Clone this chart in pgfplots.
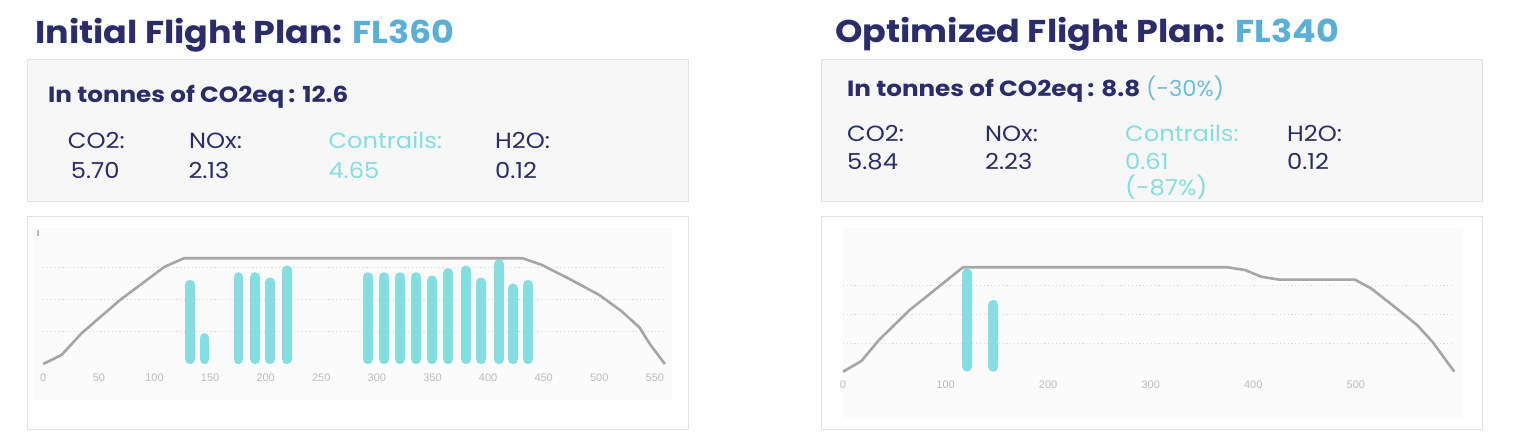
\documentclass[border=0pt]{standalone}
\usepackage{fontspec}
\setmainfont{Poppins}
\newfontfamily\tickfont{Liberation Sans}
\usepackage{pgfplots}
\pgfplotsset{compat=1.18}
\definecolor{navy}{HTML}{2B2C6B}
\definecolor{flblue}{HTML}{5AAFD8}
\definecolor{pctblue}{HTML}{6CBDE0}
\definecolor{contrail}{HTML}{84DEE2}
\definecolor{barcol}{HTML}{84DEE2}
\definecolor{boxfill}{HTML}{F7F7F7}
\definecolor{boxline}{HTML}{E2E2E2}
\definecolor{plotbg}{HTML}{FBFBFB}
\definecolor{linegray}{HTML}{A6A6A6}
\definecolor{gridgray}{HTML}{DADADA}
\definecolor{tickgray}{HTML}{BDBDBD}
\pgfplotsset{flight/.style={
  scale only axis, clip=false, anchor=south west,
  axis line style={draw=none}, major tick length=0pt, tick style={draw=none},
  ymajorgrids, grid style={gridgray, line width=1pt, dash pattern=on 1.2pt off 2.6pt},
  yticklabels={},
  xticklabel style={font=\tickfont\fontsize{11}{12}\selectfont, text=tickgray, anchor=center},
  /pgf/number format/assume math mode=true,
}}
\newcommand\titlefont{\bfseries\fontsize{31.5}{36}\selectfont}
\newcommand\headfont{\bfseries\fontsize{22}{26}\selectfont}
\newcommand\valfont{\fontsize{22}{26}\selectfont}
\newcommand\TT[1]{\scalebox{1.108}[1]{\titlefont #1}}
\newcommand\HH[1]{\scalebox{1.12}[1]{\headfont #1}}
\newcommand\VV[1]{\scalebox{1.1}[1]{\valfont #1}}
\begin{document}
\begin{tikzpicture}[x=1pt,y=1pt]
\path[fill=white] (0,0) rectangle (1536,443);
% ---------- boxes
\filldraw[fill=boxfill, draw=boxline, line width=1pt] (27,383) rectangle (688,241);
\filldraw[fill=white, draw=boxline, line width=1pt] (27,226) rectangle (688,13);
\fill[plotbg] (33,215) rectangle (672,43);
\filldraw[fill=boxfill, draw=boxline, line width=1pt] (821.5,383) rectangle (1482,241);
\filldraw[fill=white, draw=boxline, line width=1pt] (821.5,226) rectangle (1482,13);
\fill[plotbg] (843,215) rectangle (1463,25);
\fill[tickgray] (37,206.5) rectangle (38.6,213);
% ---------- texts left
\node[anchor=base west, inner sep=0, text=navy] at (35,399) {\TT{Initial Flight Plan: \textcolor{flblue}{FL360}}};
\node[anchor=base west, inner sep=0, text=navy] at (48,340.3) {\HH{In tonnes of CO2eq\,: 12.6}};
\node[anchor=base west, inner sep=0, text=navy] at (67.7,294) {\VV{CO2:}};
\node[anchor=base west, inner sep=0, text=navy] at (70.7,264.7) {\VV{5.70}};
\node[anchor=base west, inner sep=0, text=navy] at (189,294) {\VV{NOx:}};
\node[anchor=base west, inner sep=0, text=navy] at (188.3,264.7) {\VV{2.13}};
\node[anchor=base west, inner sep=0, text=contrail] at (328.3,294) {\VV{Contrails:}};
\node[anchor=base west, inner sep=0, text=contrail] at (328.3,264.7) {\VV{4.65}};
\node[anchor=base west, inner sep=0, text=navy] at (495,294) {\VV{H2O:}};
\node[anchor=base west, inner sep=0, text=navy] at (495,264.7) {\VV{0.12}};
% ---------- texts right
\node[anchor=base west, inner sep=0, text=navy] at (835,400) {\TT{Optimized Flight Plan: \textcolor{flblue}{FL340}}};
\node[anchor=base west, inner sep=0, text=navy] at (847,346.3) {\HH{In tonnes of CO2eq\,: 8.8}\hspace{6pt}\textcolor{pctblue}{\scalebox{1.03}[1]{\valfont (-30\%)}}};
\node[anchor=base west, inner sep=0, text=navy] at (847,301.3) {\VV{CO2:}};
\node[anchor=base west, inner sep=0, text=navy] at (847,273) {\VV{5.84}};
\node[anchor=base west, inner sep=0, text=navy] at (985,301.3) {\VV{NOx:}};
\node[anchor=base west, inner sep=0, text=navy] at (985,273) {\VV{2.23}};
\node[anchor=base west, inner sep=0, text=contrail] at (1125,301.3) {\VV{Contrails:}};
\node[anchor=base west, inner sep=0, text=contrail] at (1125,273) {\VV{0.61}};
\node[anchor=base west, inner sep=0, text=contrail] at (1125,247) {\VV{(-87\%)}};
\node[anchor=base west, inner sep=0, text=navy] at (1287,301.3) {\VV{H2O:}};
\node[anchor=base west, inner sep=0, text=navy] at (1287,273) {\VV{0.12}};
% ---------- left chart
\begin{axis}[flight, at={(43.3pt,79pt)}, width=622.7pt, height=105.7pt,
  xmin=0, xmax=560, ymin=0, ymax=360,
  xtick={0,50,...,550}, ytick={109,218,328},
  xticklabel style={yshift=-14pt}]
\addplot[barcol, line width=9.8pt, line cap=round, unbounded coords=jump] coordinates {
 (132.2,16) (132.2,270) (132.2,nan)
 (144.9,16) (144.9,88.5) (144.9,nan)
 (175.5,16) (175.5,296) (175.5,nan)
 (190.5,16) (190.5,296) (190.5,nan)
 (203.9,16) (203.9,278) (203.9,nan)
 (218.9,16) (218.9,319) (218.9,nan)
 (291.7,16) (291.7,296) (291.7,nan)
 (306.6,16) (306.6,296) (306.6,nan)
 (320.8,16) (320.8,296) (320.8,nan)
 (335.4,16) (335.4,296) (335.4,nan)
 (349.6,16) (349.6,285) (349.6,nan)
 (364.1,16) (364.1,310) (364.1,nan)
 (380.2,16) (380.2,319) (380.2,nan)
 (393.6,16) (393.6,278) (393.6,nan)
 (410.1,16) (410.1,340.5) (410.1,nan)
 (422.4,16) (422.4,257.5) (422.4,nan)
 (435.8,16) (435.8,270)
};
\addplot[linegray, line width=2.6pt, line join=round] coordinates {
 (0,0) (16.5,31) (34.5,105) (69,218) (109,331) (126.5,360) (431,360)
 (448,338) (473,290) (500,235) (520,180) (536,125) (546,65) (559,0)
};
\end{axis}
% ---------- right chart
\begin{axis}[flight, at={(843pt,71.3pt)}, width=611.3pt, height=104.4pt,
  xmin=0, xmax=596, ymin=0, ymax=340,
  xtick={0,100,...,500}, ytick={91,187,282},
  xticklabel style={yshift=-13.3pt}]
\addplot[barcol, line width=10pt, line cap=round, unbounded coords=jump] coordinates {
 (120.8,16.3) (120.8,320.5) (120.8,nan)
 (146.7,16.3) (146.7,217.2)
};
\addplot[linegray, line width=2.6pt, line join=round] coordinates {
 (0,0) (18,35) (35,103) (65,201) (117,340) (375,340) (392,331) (408,309)
 (425,300) (499,300) (515,271) (542,200) (560,151) (575,96) (596,0)
};
\end{axis}
\end{tikzpicture}
\end{document}
